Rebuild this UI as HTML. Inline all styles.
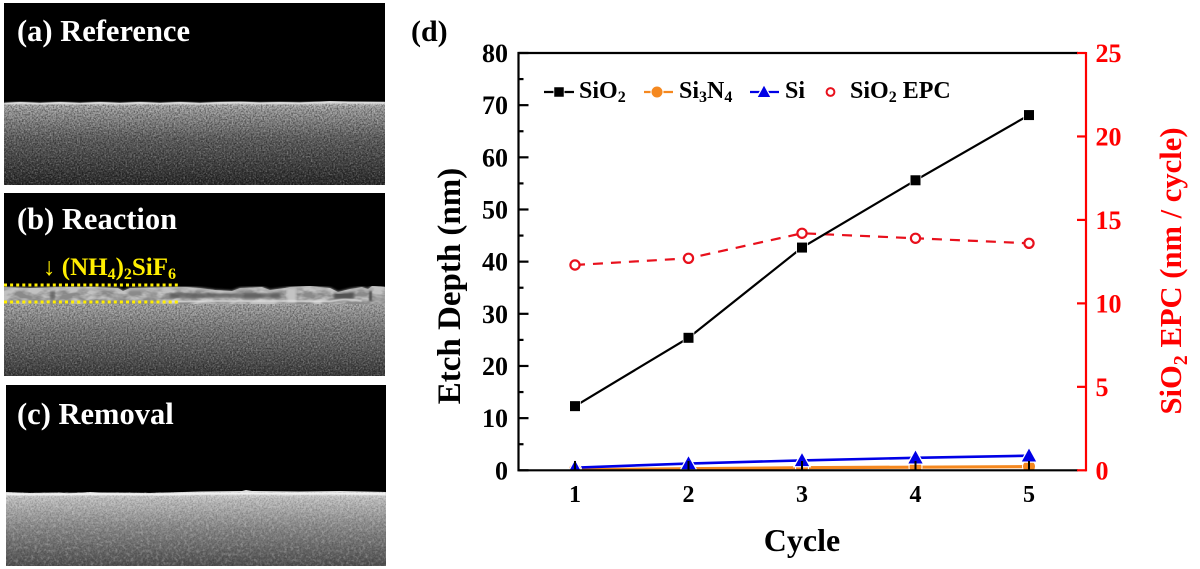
<!DOCTYPE html>
<html><head><meta charset="utf-8">
<style>
html,body{margin:0;padding:0;background:#fff;width:1200px;height:569px;overflow:hidden}
svg{display:block}
text{font-family:"Liberation Serif",serif;font-weight:bold}
</style></head>
<body>
<svg id="fig" width="1200" height="569" viewBox="0 0 1200 569" xmlns="http://www.w3.org/2000/svg">
<defs>
<filter id="noise" x="0" y="0" width="100%" height="100%">
<feTurbulence type="fractalNoise" baseFrequency="0.62" numOctaves="2" seed="4"/>
<feColorMatrix type="matrix" values="0 0 0 0 1  0 0 0 0 1  0 0 0 0 1  3 0 0 0 -1.25"/>
</filter>
<filter id="noisedark" x="0" y="0" width="100%" height="100%">
<feTurbulence type="fractalNoise" baseFrequency="0.62" numOctaves="2" seed="9"/>
<feColorMatrix type="matrix" values="0 0 0 0 0  0 0 0 0 0  0 0 0 0 0  3 0 0 0 -1.2"/>
</filter>
<filter id="grainc" x="0" y="0" width="100%" height="100%">
<feTurbulence type="fractalNoise" baseFrequency="0.32" numOctaves="2" seed="14"/>
<feColorMatrix type="matrix" values="0 0 0 0 1  0 0 0 0 1  0 0 0 0 1  3 0 0 0 -1.35"/>
</filter>
<filter id="blobs" x="0" y="0" width="100%" height="100%">
<feTurbulence type="fractalNoise" baseFrequency="0.07 0.16" numOctaves="3" seed="21"/>
<feColorMatrix type="matrix" values="0 0 0 0 0.95  0 0 0 0 0.95  0 0 0 0 0.95  3.2 0 0 0 -1.2"/>
</filter>
<filter id="soft"><feGaussianBlur stdDeviation="0.7"/></filter>
<filter id="soft2"><feGaussianBlur stdDeviation="1.4"/></filter>
<linearGradient id="ga" x1="0" y1="0" x2="0" y2="1">
<stop offset="0" stop-color="#c4c4c4"/><stop offset=".1" stop-color="#a0a0a0"/><stop offset=".45" stop-color="#5e5e5e"/><stop offset="1" stop-color="#242424"/>
</linearGradient>
<linearGradient id="gb" x1="0" y1="0" x2="0" y2="1">
<stop offset="0" stop-color="#a8a8a8"/><stop offset=".35" stop-color="#7a7a7a"/><stop offset="1" stop-color="#363636"/>
</linearGradient>
<linearGradient id="gc" x1="0" y1="0" x2="0" y2="1">
<stop offset="0" stop-color="#e4e4e4"/><stop offset=".12" stop-color="#c0c0c0"/><stop offset=".5" stop-color="#888"/><stop offset="1" stop-color="#505050"/>
</linearGradient>
<clipPath id="cpa"><rect x="4" y="3" width="381" height="182"/></clipPath>
<clipPath id="cpb"><rect x="4" y="193" width="381" height="183"/></clipPath>
<clipPath id="cpc"><rect x="6" y="385" width="380" height="181"/></clipPath>
<clipPath id="cplayer"><polygon points="4,287 30,288 60,287 95,287 118,288 123,291 130,288 175,287 185,287 200,288 215,290 232,291 240,288 262,287 270,290 285,288 290,287 310,286 330,288 338,292 350,289 362,287 368,289 372,286 385,287 385,304 4,304"/></clipPath>
<clipPath id="cpplot"><rect x="518" y="52" width="569" height="418.5"/></clipPath>
</defs>

<!-- Panel a -->
<g clip-path="url(#cpa)">
<rect x="4" y="3" width="381" height="182" fill="#000"/>
<polygon points="4,103 20,102 40,103 60,102 80,103 100,102 120,103 140,102 160,103 180,102 200,103 220,102 240,101.5 260,102.5 280,102 300,102.5 330,101 350,101.5 385,102 385,185 4,185" fill="url(#ga)"/>
<rect x="4" y="103" width="381" height="82" filter="url(#noise)" opacity=".24"/>
<rect x="4" y="103" width="381" height="82" filter="url(#noisedark)" opacity=".4"/>
<polyline points="4,104 20,103 40,104 60,103 80,104 100,103 120,104 140,103 160,104 180,103 200,104 220,103 240,102.5 260,103.5 280,103 300,103.5 330,102 350,102.5 385,103" fill="none" stroke="#e0e0e0" stroke-width="2.5" filter="url(#soft)"/>
</g>
<text x="17" y="41" font-size="30.5" fill="#fff">(a) Reference</text>

<!-- Panel b -->
<g clip-path="url(#cpb)">
<rect x="4" y="193" width="381" height="183" fill="#000"/>
<rect x="4" y="303" width="381" height="73" fill="url(#gb)"/>
<rect x="4" y="303" width="381" height="73" filter="url(#noise)" opacity=".24"/>
<rect x="4" y="303" width="381" height="73" filter="url(#noisedark)" opacity=".35"/>
<g clip-path="url(#cplayer)">
<rect x="4" y="285" width="381" height="20" fill="#8a8a8a"/>
<rect x="4" y="285" width="381" height="20" filter="url(#blobs)" opacity=".5"/>
<rect x="170" y="293" width="110" height="5" fill="#505050" filter="url(#soft2)" opacity=".7"/>
<rect x="334" y="292" width="20" height="7" fill="#444" filter="url(#soft2)" opacity=".8"/>
<rect x="369" y="291" width="3" height="10" fill="#444" filter="url(#soft)" opacity=".8"/>
<rect x="50" y="291" width="5" height="9" fill="#555" filter="url(#soft2)" opacity=".7"/>
<rect x="287" y="288" width="9" height="15" fill="#c4c4c4" filter="url(#soft2)"/>
</g>
<polyline points="4,288 30,289 60,288 95,288 118,289 123,292 130,289 175,288 185,288 200,289 215,291 232,292 240,289 262,288 270,291 285,289 290,288 310,287 330,289 338,293 350,290 362,288 368,290 372,287 385,288" fill="none" stroke="#c4c4c4" stroke-width="2" filter="url(#soft2)"/>
<polyline points="170,302 210,301 285,301 330,301.5 345,299 362,301" fill="none" stroke="#e6e6e6" stroke-width="1.6" filter="url(#soft)"/>
</g>
<text x="17" y="229" font-size="30.5" fill="#fff">(b) Reaction</text>
<line x1="4" y1="285" x2="178" y2="285" stroke="#ffee00" stroke-width="3" stroke-dasharray="3 3.1"/>
<line x1="4" y1="302" x2="178" y2="302" stroke="#ffee00" stroke-width="3" stroke-dasharray="3 3.1"/>
<text x="43" y="275" font-size="25" fill="#ffee00">↓ (NH<tspan font-size="16" dy="4">4</tspan><tspan dy="-4">)</tspan><tspan font-size="16" dy="4">2</tspan><tspan dy="-4">SiF</tspan><tspan font-size="16" dy="4">6</tspan></text>

<!-- Panel c -->
<g clip-path="url(#cpc)">
<rect x="6" y="385" width="380" height="181" fill="#000"/>
<polygon points="6,492 30,493 60,492.5 68,493.5 90,492 100,492.5 150,493 200,491.5 242,491 246,490 252,491 300,491.5 340,491 386,492 386,566 6,566" fill="url(#gc)"/>
<rect x="6" y="492" width="380" height="74" filter="url(#grainc)" opacity=".22"/>
<rect x="6" y="492" width="380" height="74" filter="url(#noisedark)" opacity=".18"/>
<polyline points="6,494 30,495 60,494.5 90,494 100,494 150,495 200,493.5 250,493 300,493.5 340,493 386,494" fill="none" stroke="#f2f2f2" stroke-width="3" filter="url(#soft)"/>
</g>
<text x="17" y="424" font-size="30.5" fill="#fff">(c) Removal</text>

<text x="411" y="41" font-size="30" fill="#000">(d)</text>

<g id="chart"></g>
</svg>
<script>
const cycles = [1, 2, 3, 4, 5];
const sio2Depth = [12.3, 25.4, 42.7, 55.6, 68.1];
const si3n4Depth = [0.1, 0.3, 0.5, 0.6, 0.7];
const siDepth = [0.5, 1.3, 1.9, 2.4, 2.8];
const sio2Epc = [12.3, 12.7, 14.2, 13.9, 13.6];
const leftTicks = [0, 10, 20, 30, 40, 50, 60, 70, 80];
const leftMinorTicks = [5, 15, 25, 35, 45, 55, 65, 75];
const rightTicks = [0, 5, 10, 15, 20, 25];

const NS = 'http://www.w3.org/2000/svg';
const root = document.getElementById('chart');
const chart = root;
const plotLayer = document.createElementNS(NS, 'g');
plotLayer.setAttribute('clip-path', 'url(#cpplot)');


root.appendChild(plotLayer);

const X = c => 575 + (c - 1) * (1029 - 575) / 4;
const YL = v => 470.3 - v * (470.3 - 53) / 80;
const YR = v => 470.3 - v * (470.3 - 53) / 25;

function mk(tag, attrs, parent) {
  const el = document.createElementNS(NS, tag);
  for (const k in attrs) el.setAttribute(k, attrs[k]);
  (parent || chart).appendChild(el);
  return el;
}
function label(x, y, str, size, fill, anchor) {
  const t = mk('text', {x: x, y: y, 'font-size': size, fill: fill, 'text-anchor': anchor});
  t.textContent = str;
  return t;
}
function seriesLine(vals, yf, color, width, dash) {
  const l = mk('polyline', {
    points: vals.map((v, i) => X(cycles[i]) + ',' + yf(v)).join(' '),
    fill: 'none', stroke: color, 'stroke-width': width
  }, plotLayer);
  if (dash) l.setAttribute('stroke-dasharray', dash);
  return l;
}
function square(x, y, s, p, halo) {
  return mk('rect', {x: x - s / 2, y: y - s / 2, width: s, height: s, fill: '#000', stroke: halo ? '#fff' : 'none', 'stroke-width': 1.5, 'paint-order': 'stroke'}, p);
}
function circle(x, y, r, p, halo) {
  return mk('circle', {cx: x, cy: y, r: r, fill: '#f5881f', stroke: halo ? '#fff' : 'none', 'stroke-width': 2, 'paint-order': 'stroke'}, p);
}
function tri(x, y, s, p, halo) {
  return mk('polygon', {points: x + ',' + (y - s * 0.62) + ' ' + (x + s * 0.62) + ',' + (y + s * 0.5) + ' ' + (x - s * 0.62) + ',' + (y + s * 0.5), fill: '#0000e6', stroke: halo ? '#fff' : 'none', 'stroke-width': 2.5, 'paint-order': 'stroke'}, p);
}
function ring(x, y, r, w, p) {
  return mk('circle', {cx: x, cy: y, r: r, fill: '#fff', stroke: '#e8101c', 'stroke-width': w}, p);
}

// series lines
let el;
el = seriesLine(si3n4Depth, YL, '#f5881f', 3.2);


el = seriesLine(siDepth, YL, '#0000e6', 2.6);


el = seriesLine(sio2Epc, YR, '#e8101c', 2.2, '10 8');


el = seriesLine(sio2Depth, YL, '#000', 2.2);



// markers
cycles.forEach((c, i) => {
  let m;
  m = circle(X(c), YL(si3n4Depth[i]), 6, plotLayer, true);
  
  
  m = tri(X(c), YL(siDepth[i]), 11.5, plotLayer, true);
  
  
  m = ring(X(c), YR(sio2Epc[i]), 4.6, 2.2, plotLayer);
  
  
  m = square(X(c), YL(sio2Depth[i]), 10, plotLayer, true);
  
  
});

// frame
el = mk('polyline', {points: '1078,53 518.5,53 518.5,470.3 1078,470.3', fill: 'none', stroke: '#000', 'stroke-width': 2.2});


el = mk('line', {x1: 1086, y1: 52, x2: 1086, y2: 471.4, stroke: '#ff0000', 'stroke-width': 2.2});



// left ticks
leftTicks.forEach(v => {
  mk('line', {x1: 518.5, y1: YL(v), x2: 528.5, y2: YL(v), stroke: '#000', 'stroke-width': 2.2});
  const t = label(508, YL(v) + 9, String(v), 26, '#000', 'end');
  
  
});
leftMinorTicks.forEach(v => {
  mk('line', {x1: 518.5, y1: YL(v), x2: 523.5, y2: YL(v), stroke: '#000', 'stroke-width': 2.2});
});

// right ticks
rightTicks.forEach(v => {
  mk('line', {x1: 1077, y1: YR(v), x2: 1086, y2: YR(v), stroke: '#ff0000', 'stroke-width': 2.2});
  const t = label(1095.5, YR(v) + 9, String(v), 26, '#ff0000', 'start');
  
  
});

// x ticks
cycles.forEach(c => {
  mk('line', {x1: X(c), y1: 470.3, x2: X(c), y2: 461, stroke: '#000', 'stroke-width': 2});
  const t = label(X(c), 502, String(c), 24, '#000', 'middle');
  
  
});

// axis titles
el = label(802, 551, 'Cycle', 32, '#000', 'middle');



el = label(0, 0, 'Etch Depth (nm)', 33, '#000', 'middle');
el.setAttribute('transform', 'translate(460,286) rotate(-90)');



el = mk('text', {'font-size': 30.6, fill: '#ff0000', 'text-anchor': 'middle', transform: 'translate(1181,271) rotate(-90)'});


el.innerHTML = 'SiO<tspan font-size="20" dy="6">2</tspan><tspan dy="-6"> EPC (nm / cycle)</tspan>';

// legend
function legendText(x, html) {
  const t = mk('text', {x: x, y: 98, 'font-size': 24, fill: '#000'});
  t.innerHTML = html;
  return t;
}
function legendLine(x1, x2, color) {
  return mk('line', {x1: x1, y1: 92, x2: x2, y2: 92, stroke: color, 'stroke-width': 2.2});
}
legendLine(544, 574, '#000');
square(559, 92, 9.5, chart, true);
el = legendText(579, 'SiO<tspan font-size="16" dy="4">2</tspan>');



legendLine(644, 673, '#f5881f');
circle(657, 92, 5.5, chart, true);
el = legendText(679, 'Si<tspan font-size="16" dy="4">3</tspan><tspan dy="-4">N</tspan><tspan font-size="16" dy="4">4</tspan>');



legendLine(750, 779, '#0000e6');
tri(764, 92, 10, chart, true);
el = legendText(785, 'Si');



ring(830.5, 92, 3.9, 2, chart);
el = legendText(850, 'SiO<tspan font-size="16" dy="4">2</tspan><tspan dy="-4"> EPC</tspan>');


</script>
</body></html>
